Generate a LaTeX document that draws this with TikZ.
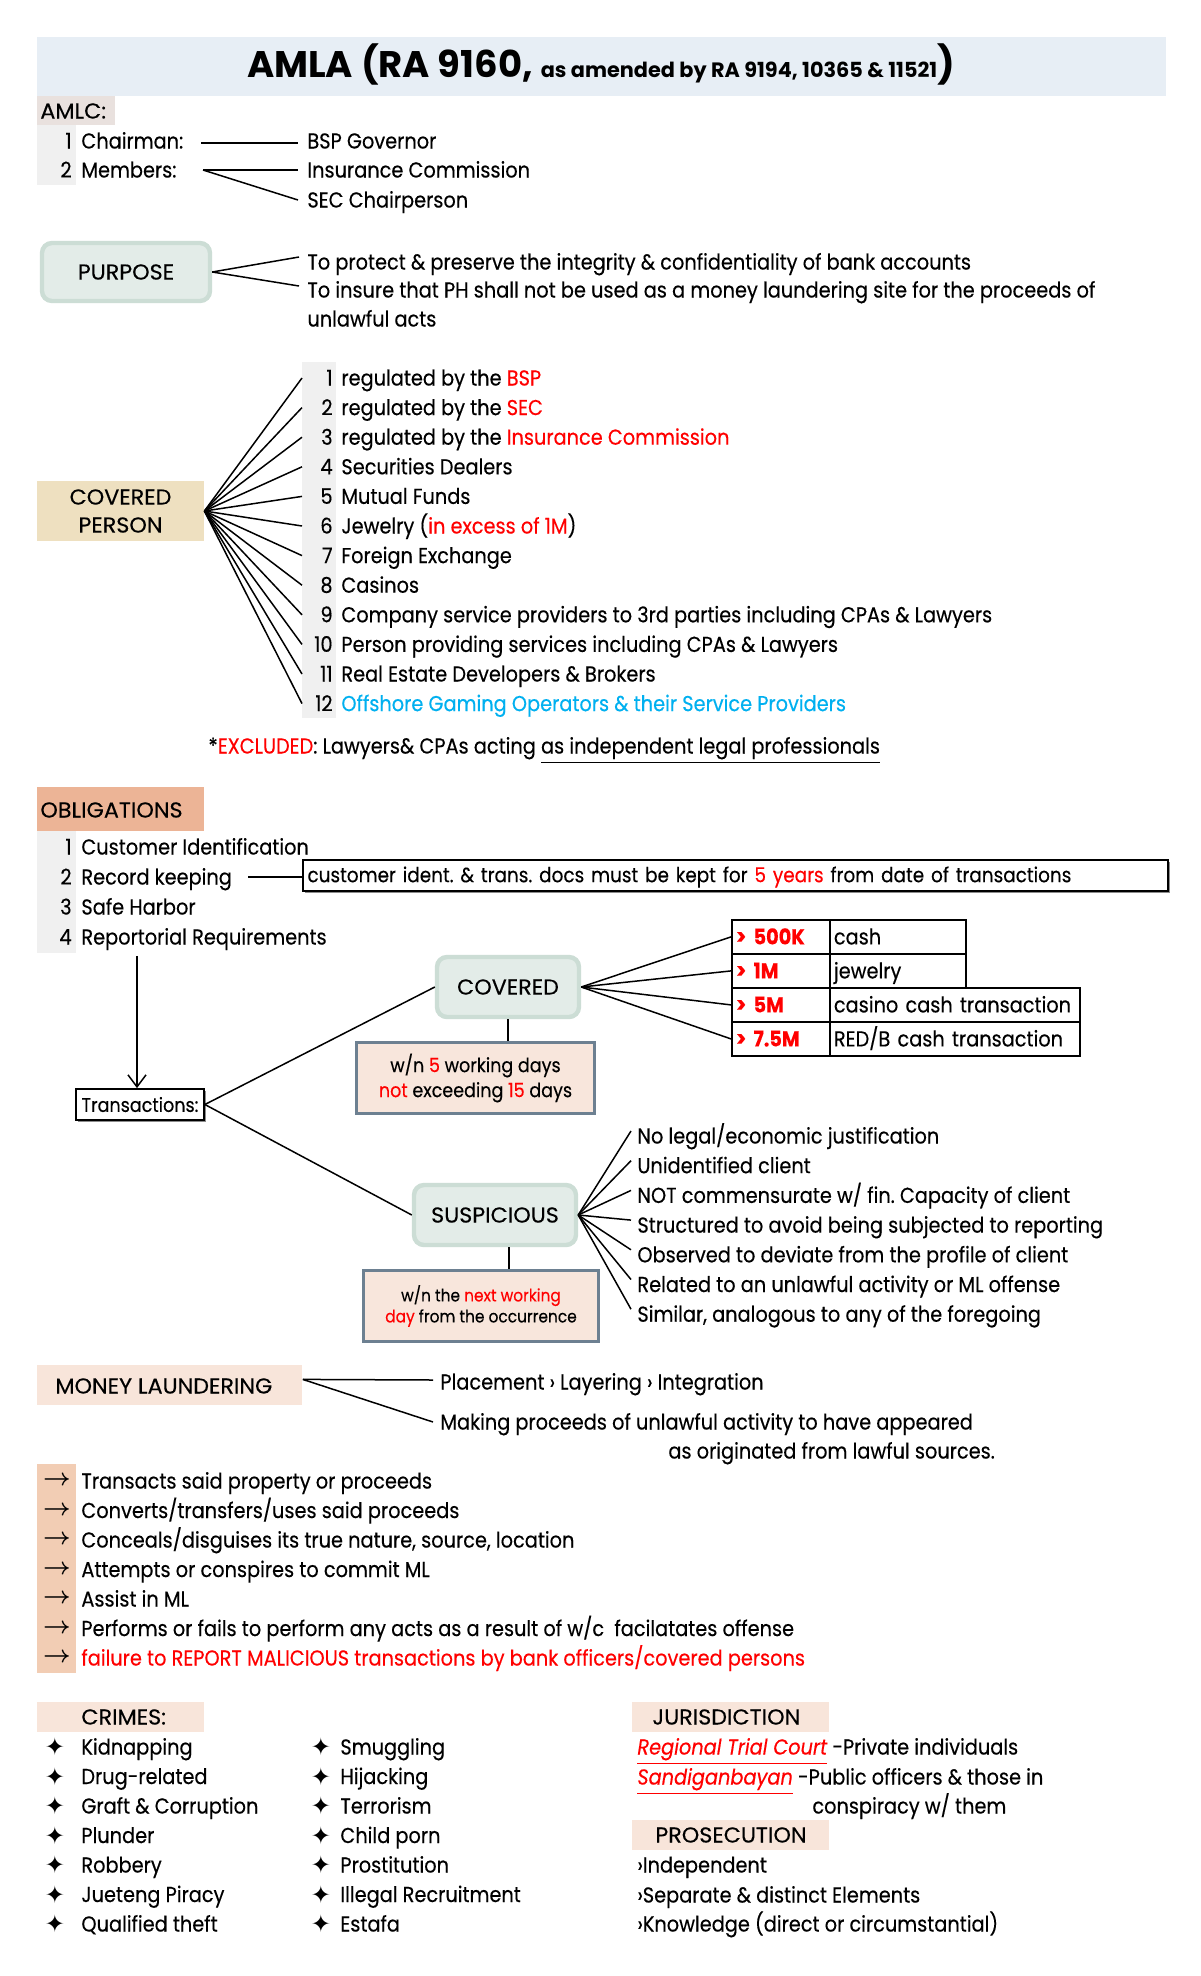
\documentclass[tikz,border=0pt]{standalone}
\usepackage{fontspec}
\setmainfont{Poppins}[FakeStretch=0.895, FakeBold=0.3]
\newfontfamily\capsfont{Poppins}[FakeStretch=1.03, FakeBold=0.3]
\newfontfamily\titlefont{Poppins}
\newfontfamily\djv{DejaVu Sans}
\usetikzlibrary{arrows.meta,calc,shadows}
\definecolor{titlebg}{HTML}{E7EEF5}
\definecolor{amlcbg}{HTML}{E9E1DE}
\definecolor{stripgray}{HTML}{F0F0F0}
\definecolor{gfill}{HTML}{E3ECE8}
\definecolor{gborder}{HTML}{CCDDD5}
\definecolor{beige}{HTML}{EEE0C0}
\definecolor{salmon}{HTML}{ECB496}
\definecolor{peachlight}{HTML}{F8E5DA}
\definecolor{arrowstrip}{HTML}{F2CDB4}
\definecolor{pbfill}{HTML}{F8E6DC}
\definecolor{pbborder}{HTML}{6D8091}
\definecolor{amlred}{HTML}{FF0000}
\definecolor{amlblue}{HTML}{00B0F0}
\newcommand\bodyfont{\fontsize{10.8}{14}\selectfont\frenchspacing}
\newcommand\recfont{\fontsize{10.3}{13}\selectfont\frenchspacing}
\newcommand\smallbody{\fontsize{9.8}{12.5}\selectfont\frenchspacing}
\newcommand\tinybody{\fontsize{8.6}{10.5}\selectfont\frenchspacing}
\newcommand\rd[1]{\textcolor{amlred}{#1}}
\newcommand\bl[1]{\textcolor{amlblue}{#1}}
\tikzset{
  txt/.style={anchor=west, inner sep=0pt, text height=7.5pt, text depth=0pt},
  head/.style={txt, font=\capsfont\bodyfont},
  num/.style={anchor=east, inner sep=0pt, text height=7.5pt, text depth=0pt},
  lbl/.style={anchor=north west, inner sep=0pt},
  glyph/.style={inner sep=0pt, font=\djv\fontsize{12}{12}\selectfont},
  arrglyph/.style={inner sep=0pt, font=\fontsize{12}{12}\selectfont\boldmath},
  conn/.style={line width=0.75pt, black},
  gbox/.style={draw=gborder, line width=2.2pt, fill=gfill, rounded corners=5pt, inner sep=0pt, align=center, font=\capsfont\bodyfont},
  pbox/.style={draw=pbborder, line width=1.5pt, fill=pbfill, inner sep=0pt, align=center},
  cell/.style={draw, line width=0.9pt, anchor=north west, inner xsep=2pt, inner ysep=0pt, minimum height=17pt, align=left, text height=7.5pt, text depth=0pt},
  shd/.style={drop shadow={shadow xshift=1pt, shadow yshift=-1pt, fill=black!45, opacity=1}},
}
\begin{document}
\begin{tikzpicture}[x=0.5pt,y=-0.5pt,font=\bodyfont]
\path[use as bounding box, fill=white] (0,0) rectangle (1200,1976);

% ---------- title ----------
\node[lbl, fill=titlebg, minimum width=564.5pt, minimum height=29.5pt] (titlebar) at (37,37) {};
\node[anchor=base, inner sep=0pt] (title) at (601,77) {\titlefont\fontsize{18.5}{21}\selectfont\bfseries AMLA (RA 9160, {\fontsize{10.4}{12}\selectfont as amended by RA 9194, 10365 \& 11521}\fontsize{18.5}{21}\selectfont)};

% ---------- AMLC ----------
\node[lbl, fill=amlcbg, minimum width=39pt, minimum height=14.5pt] (amlcbox) at (37,96) {};
\node[head] (amlc) at (40,111) {AMLC:};
\node[lbl, fill=stripgray, minimum width=19.5pt, minimum height=30pt] (amlcstrip) at (37,125) {};
\node[num] (n1) at (72,141) {1};
\node[txt] (chair) at (81,141) {Chairman:};
\node[num] (n2) at (72,170) {2};
\node[txt] (memb) at (81,170) {Members:};
\node[txt] (bsp) at (307,141) {BSP Governor};
\node[txt] (ic) at (307,170) {Insurance Commission};
\node[txt] (sec) at (307,200) {SEC Chairperson};
\draw[conn] ($(bsp.west)+(-106,2)$) -- ($(bsp.west)+(-9,2)$);
\draw[conn] ($(ic.west)+(-104,0)$) -- ($(ic.west)+(-9,0)$);
\draw[conn] ($(ic.west)+(-104,0)$) -- ($(sec.west)+(-9,0)$);

% ---------- PURPOSE ----------
\node[gbox, minimum width=84pt, minimum height=29pt] (purpose) at (126,272) {PURPOSE};
\node[txt] (pu1) at (307,262) {To protect \& preserve the integrity \& confidentiality of bank accounts};
\node[txt] (pu2) at (307,290) {To insure that PH shall not be used as a money laundering site for the proceeds of};
\node[txt] (pu3) at (307,319) {unlawful acts};
\draw[conn] (purpose.east) -- ($(pu1.west)+(-8,-5)$);
\draw[conn] (purpose.east) -- ($(pu2.west)+(-8,-4)$);

% ---------- COVERED PERSON ----------
\node[fill=beige, minimum width=83.5pt, minimum height=30pt, inner sep=0pt, align=center, font=\capsfont\bodyfont] (cp) at (120.5,511) {COVERED\\PERSON};
\node[lbl, fill=stripgray, minimum width=17pt, minimum height=178pt] (cpstrip) at (302,362) {};
\foreach \t [count=\i] in {
  {regulated by the \rd{BSP}},
  {regulated by the \rd{SEC}},
  {regulated by the \rd{Insurance Commission}},
  {Securities Dealers},
  {Mutual Funds},
  {Jewelry (\rd{in excess of 1M})},
  {Foreign Exchange},
  {Casinos},
  {Company service providers to 3rd parties including CPAs \& Lawyers},
  {Person providing services including CPAs \& Lawyers},
  {Real Estate Developers \& Brokers},
  {\bl{Offshore Gaming Operators \& their Service Providers}}}{
  \pgfmathsetmacro\yy{378+(\i-1)*29.6}
  \node[num] (cpn\i) at (333,\yy) {\i};
  \node[txt] (cpt\i) at (341,\yy) {\t};
  \draw[conn] (cp.east) -- (cpstrip.west |- cpt\i.west);
}
\node[txt] (excl) at (208,746) {*\rd{EXCLUDED}: Lawyers\& CPAs acting \underline{as independent legal professionals}};

% ---------- OBLIGATIONS ----------
\node[lbl, fill=salmon, minimum width=83.5pt, minimum height=22pt] (oblbox) at (37,787) {};
\node[head] (obl) at (40,810) {OBLIGATIONS};
\node[lbl, fill=stripgray, minimum width=19.5pt, minimum height=61pt] (oblstrip) at (37,831) {};
\foreach \t [count=\i] in {Customer Identification, Record keeping, Safe Harbor, Reportorial Requirements}{
  \pgfmathsetmacro\yy{847+(\i-1)*30}
  \node[num] (on\i) at (72,\yy) {\i};
  \node[txt] (o\i) at (81,\yy) {\t};
}
\node[draw, line width=1pt, shd, fill=white, anchor=west, minimum width=432.5pt, minimum height=15.5pt, text width=428pt, inner xsep=2pt, inner ysep=0pt, align=left, text height=7.2pt, text depth=0pt, font=\recfont] (recbox) at (302,875) {customer ident. \& trans. docs must be kept for \rd{5 years} from date of transactions};
\draw[conn] ($(recbox.west)+(-54,2)$) -- ($(recbox.west)+(0,2)$);

% ---------- Transactions ----------
\node[draw, line width=0.9pt, shd, fill=white, minimum width=64pt, minimum height=15.5pt, inner sep=0pt, font=\smallbody] (trans) at (140,1104.5) {Transactions:};
\draw[conn, -{Straight Barb[length=6pt,width=9pt]}] ($(trans.north |- oblstrip.south)+(-3,2)$) -- ($(trans.north)+(-3,0)$);

\node[gbox, minimum width=71pt, minimum height=30pt] (cov) at (508,987) {COVERED};
\node[pbox, minimum width=119pt, minimum height=35.5pt, font=\smallbody] (cbox) at (475.5,1078) {w/n \rd{5} working days\\\rd{not} exceeding \rd{15} days};
\draw[conn] (cov.south) -- (cov.south |- cbox.north);
\draw[conn] (trans.east) -- (cov.west);

% table
\node[cell, text width=45pt] (ta1) at (731,919) {\rd{\bfseries > 500K}};
\node[cell, text width=64pt] (tb1) at (829,919) {cash};
\node[cell, text width=45pt] (ta2) at (731,953) {\rd{\bfseries > 1M}};
\node[cell, text width=64pt] (tb2) at (829,953) {jewelry};
\node[cell, text width=45pt] (ta3) at (731,987) {\rd{\bfseries > 5M}};
\node[cell, text width=121pt] (tb3) at (829,987) {casino cash transaction};
\node[cell, text width=45pt] (ta4) at (731,1021) {\rd{\bfseries > 7.5M}};
\node[cell, text width=121pt] (tb4) at (829,1021) {RED/B cash transaction};
\foreach \i in {1,...,4}{\draw[conn] (cov.east) -- (ta\i.west);}

\node[gbox, minimum width=81pt, minimum height=30pt] (susp) at (495,1215) {SUSPICIOUS};
\node[pbox, minimum width=117.5pt, minimum height=35.5pt, font=\tinybody] (sbox) at (481,1306) {w/n the \rd{next working}\\\rd{day} from the occurrence};
\draw[conn] ([xshift=7pt]susp.south) -- ([xshift=7pt]susp.south |- sbox.north);
\draw[conn] (trans.east) -- (susp.west);
\foreach \t [count=\i] in {
  {No legal/economic justification},
  {Unidentified client},
  {NOT commensurate w/ fin. Capacity of client},
  {Structured to avoid being subjected to reporting},
  {Observed to deviate from the profile of client},
  {Related to an unlawful activity or ML offense},
  {Similar, analogous to any of the foregoing}}{
  \pgfmathsetmacro\yy{1136+(\i-1)*29.7}
  \node[txt] (s\i) at (637,\yy) {\t};
  \draw[conn] (susp.east) -- ($(s\i.west)+(-6,-5)$);
}

% ---------- MONEY LAUNDERING ----------
\node[lbl, fill=peachlight, minimum width=132.5pt, minimum height=20pt] (mlbox) at (37,1365) {};
\node[head] (ml) at (55,1386) {MONEY LAUNDERING};
\node[txt] (ml1) at (440,1382) {Placement › Layering › Integration};
\node[txt] (ml2) at (440,1422) {Making proceeds of unlawful activity to have appeared};
\node[txt] (ml3) at (668,1451) {as originated from lawful sources.};
\draw[conn] ($(mlbox.east)+(0,-6)$) -- ($(ml1.west)+(-7,-2)$);
\draw[conn] ($(mlbox.east)+(0,-6)$) -- ($(ml2.west)+(-7,0)$);

\node[lbl, fill=arrowstrip, minimum width=19.5pt, minimum height=104.5pt] (arrstrip) at (37,1464) {};
\foreach \t [count=\i] in {
  {Transacts said property or proceeds},
  {Converts/transfers/uses said proceeds},
  {Conceals/disguises its true nature, source, location},
  {Attempts or conspires to commit ML},
  {Assist in ML},
  {Performs or fails to perform any acts as a result of w/c\ \ facilatates offense},
  {\rd{failure to REPORT MALICIOUS transactions by bank officers/covered persons}}}{
  \pgfmathsetmacro\yy{1481+(\i-1)*29.5}
  \node[arrglyph] (ar\i) at (57,\yy) {$\rightarrow$};
  \node[txt] (a\i) at (81,\yy) {\t};
}

% ---------- CRIMES ----------
\node[lbl, fill=peachlight, minimum width=83.5pt, minimum height=15pt] (crbox) at (37,1702) {};
\node[head] (cr) at (81,1717) {CRIMES:};
\foreach \t [count=\i] in {Kidnapping, Drug-related, Graft \& Corruption, Plunder, Robbery, Jueteng Piracy, Qualified theft}{
  \pgfmathsetmacro\yy{1747+(\i-1)*29.5}
  \node[glyph] (ca\i) at (55,\yy) {✦};
  \node[txt] (c\i) at (81,\yy) {\t};
}
\foreach \t [count=\i] in {Smuggling, Hijacking, Terrorism, Child porn, Prostitution, Illegal Recruitment, Estafa}{
  \pgfmathsetmacro\yy{1747+(\i-1)*29.5}
  \node[glyph] (da\i) at (321,\yy) {✦};
  \node[txt] (d\i) at (340,\yy) {\t};
}

% ---------- JURISDICTION / PROSECUTION ----------
\node[lbl, fill=peachlight, minimum width=98.5pt, minimum height=15pt] (jbox) at (632,1702) {};
\node[head] (jur) at (652,1717) {JURISDICTION};
\node[txt] (j1) at (637,1747) {\rd{\underline{\itshape Regional Trial Court}} -Private individuals};
\node[txt] (j2) at (637,1777) {\rd{\underline{\itshape Sandiganbayan}} -Public officers \& those in};
\node[txt] (j3) at (812,1806) {conspiracy w/ them};
\node[lbl, fill=peachlight, minimum width=98.5pt, minimum height=15pt] (pbox) at (632,1820) {};
\node[head] (pros) at (655,1835) {PROSECUTION};
\node[txt] (p1) at (637,1865) {›Independent};
\node[txt] (p2) at (637,1895) {›Separate \& distinct Elements};
\node[txt] (p3) at (637,1924) {›Knowledge (direct or circumstantial)};
\end{tikzpicture}
\end{document}
